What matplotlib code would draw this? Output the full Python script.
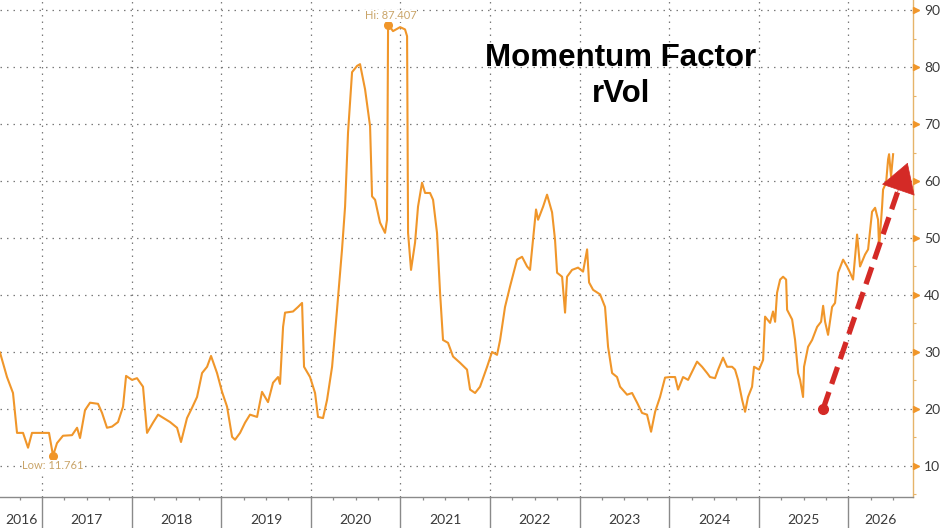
import numpy as np
import matplotlib
matplotlib.use("Agg")
import matplotlib.pyplot as plt
from matplotlib.ticker import FixedLocator, NullFormatter
import matplotlib.transforms as mtransforms

# ---------------- data (decimal years, rVol) ----------------
t = [2016.531, 2016.609, 2016.676, 2016.721, 2016.788, 2016.844, 2016.888, 2017.000,
     2017.078, 2017.123, 2017.167, 2017.234, 2017.335, 2017.391, 2017.424, 2017.480,
     2017.536, 2017.625, 2017.670, 2017.725, 2017.781, 2017.848, 2017.904, 2017.938,
     2018.004, 2018.060, 2018.127, 2018.172, 2018.239, 2018.295, 2018.429, 2018.507,
     2018.551, 2018.618, 2018.674, 2018.730, 2018.786, 2018.842, 2018.886, 2018.953,
     2019.009, 2019.065, 2019.121, 2019.154, 2019.210, 2019.266, 2019.321, 2019.400,
     2019.455, 2019.522, 2019.578, 2019.634, 2019.656, 2019.690, 2019.712, 2019.801,
     2019.857, 2019.902, 2019.924, 2019.991, 2020.047, 2020.080, 2020.136, 2020.181,
     2020.237, 2020.292, 2020.348, 2020.382, 2020.415, 2020.460, 2020.516, 2020.549,
     2020.605, 2020.661, 2020.683, 2020.717, 2020.772, 2020.828, 2020.850, 2020.862,
     2020.884, 2020.917, 2020.996, 2021.051, 2021.074, 2021.085, 2021.118, 2021.163,
     2021.196, 2021.241, 2021.275, 2021.330, 2021.364, 2021.408, 2021.442, 2021.475,
     2021.531, 2021.587, 2021.665, 2021.743, 2021.777, 2021.833, 2021.888, 2021.967,
     2022.022, 2022.078, 2022.112, 2022.167, 2022.223, 2022.301, 2022.357, 2022.413,
     2022.446, 2022.480, 2022.513, 2022.536, 2022.592, 2022.636, 2022.692, 2022.725,
     2022.748, 2022.804, 2022.837, 2022.859, 2022.915, 2022.982, 2023.038, 2023.083,
     2023.105, 2023.150, 2023.228, 2023.283, 2023.317, 2023.362, 2023.417, 2023.451,
     2023.529, 2023.585, 2023.641, 2023.696, 2023.752, 2023.797, 2023.842, 2023.897,
     2023.953, 2024.009, 2024.065, 2024.098, 2024.154, 2024.210, 2024.266, 2024.310,
     2024.366, 2024.422, 2024.455, 2024.511, 2024.545, 2024.600, 2024.645, 2024.701,
     2024.734, 2024.768, 2024.813, 2024.846, 2024.879, 2024.924, 2024.946, 2025.002,
     2025.047, 2025.069, 2025.125, 2025.158, 2025.181, 2025.203, 2025.237, 2025.270,
     2025.304, 2025.315, 2025.371, 2025.404, 2025.438, 2025.460, 2025.493, 2025.504,
     2025.549, 2025.594, 2025.650, 2025.694, 2025.717, 2025.739, 2025.772, 2025.817,
     2025.850, 2025.884, 2025.940, 2025.984, 2026.018, 2026.051, 2026.096, 2026.129,
     2026.185, 2026.219, 2026.263, 2026.297, 2026.330, 2026.342, 2026.375, 2026.386,
     2026.420, 2026.442, 2026.453, 2026.475, 2026.498]
rvol = [29.9, 25.6, 22.8, 15.8, 15.8, 13.2, 15.8, 15.8,
        15.8, 11.8, 14.0, 15.3, 15.4, 16.7, 14.9, 19.8,
        21.1, 20.9, 19.3, 16.7, 16.9, 17.7, 20.4, 25.8,
        25.1, 25.4, 23.9, 15.8, 17.6, 19.0, 17.7, 16.7,
        14.2, 18.4, 20.2, 22.1, 26.3, 27.4, 29.3, 26.3,
        23.0, 20.4, 15.1, 14.6, 15.8, 17.6, 19.0, 18.6,
        23.0, 21.2, 24.6, 25.6, 24.4, 34.4, 36.9, 37.1,
        37.9, 38.6, 27.4, 25.6, 22.8, 18.6, 18.4, 21.6,
        27.4, 37.4, 48.0, 55.5, 68.5, 79.1, 80.2, 80.5,
        76.1, 69.6, 57.3, 56.7, 52.7, 50.9, 53.2, 87.407,
        87.0, 86.3, 87.0, 86.6, 85.4, 50.9, 44.4, 49.2,
        55.5, 59.7, 57.9, 57.9, 56.7, 50.9, 40.4, 32.1,
        31.6, 29.2, 28.1, 26.9, 23.4, 22.8, 23.9, 27.4,
        30.0, 29.5, 32.1, 37.9, 41.5, 46.2, 46.7, 45.0,
        44.4, 49.7, 55.0, 53.2, 55.5, 57.6, 54.5, 49.7,
        43.9, 43.2, 36.9, 43.2, 44.4, 44.8, 44.1, 48.0,
        42.2, 40.9, 40.1, 37.9, 30.9, 26.3, 25.6, 23.9,
        22.5, 22.8, 21.1, 19.3, 19.0, 16.0, 19.5, 22.1,
        25.5, 25.6, 25.6, 23.4, 25.6, 25.1, 26.9, 28.3,
        27.4, 26.3, 25.6, 25.4, 26.9, 29.0, 27.4, 27.4,
        26.9, 25.1, 21.6, 19.5, 22.1, 23.9, 27.4, 26.9,
        28.6, 36.2, 35.1, 37.1, 35.3, 40.4, 42.7, 43.2,
        42.7, 37.4, 35.7, 32.1, 26.3, 25.1, 22.1, 27.4,
        30.9, 32.1, 34.4, 35.3, 38.1, 35.3, 33.0, 37.9,
        38.6, 43.9, 46.2, 45.0, 43.9, 42.7, 50.6, 45.0,
        47.1, 48.0, 54.6, 55.3, 53.2, 48.3, 55.5, 58.5,
        59.7, 63.8, 64.7, 60.8, 64.7]

hi_point = (2020.862, 87.407)
low_point = (2017.123, 11.761)
arrow_start = (2025.717, 20.0)
arrow_end = (2026.66, 63.2)

years = list(range(2017, 2027))
year_labels = ["2016", "2017", "2018", "2019", "2020", "2021", "2022", "2023",
               "2024", "2025", "2026"]
y_ticks = [10, 20, 30, 40, 50, 60, 70, 80, 90]
title_text = "Momentum Factor\nrVol"

# ---------------- style ----------------
ORANGE = "#f0962a"
TAN = "#c9a468"
RED = "#d42a26"
GRIDC = "#7a7a7a"
TXT = "#3a3a3a"

W, H = 948, 528
fig = plt.figure(figsize=(W / 100, H / 100), dpi=100)
fig.patch.set_facecolor("white")
ax = fig.add_axes([0, 1 - 497 / H, 913 / W, 497 / H])

xmin, xmax = 2016.531, 2026.72
ymin, ymax = 4.55, 91.76
ax.set_xlim(xmin, xmax)
ax.set_ylim(ymin, ymax)

# grid
for y in y_ticks:
    ax.axhline(y, color=GRIDC, lw=0.9, ls=(0, (1.2, 4)), zorder=0)
for yr in years:
    ax.axvline(yr, color=GRIDC, lw=0.9, ls=(0, (1.2, 4)), zorder=0)

# main line
ax.plot(t, rvol, color=ORANGE, lw=1.5, zorder=3, solid_joinstyle="round")

# hi / low
ax.plot(*hi_point, "o", color=ORANGE, ms=5.5, zorder=4)
ax.plot(*low_point, "o", color=ORANGE, ms=5.5, zorder=4)
ax.text(hi_point[0] + 0.03, 89.0, "Hi: 87.407", color=TAN, fontsize=8,
        family="Lato", ha="center", va="center", zorder=5,
        bbox=dict(facecolor="white", edgecolor="none", pad=0.5))
ax.text(low_point[0] + 0.0, 10.0, "Low: 11.761", color=TAN, fontsize=8,
        family="Lato", ha="center", va="center", zorder=5,
        bbox=dict(facecolor="white", edgecolor="none", pad=0.5))

# red dashed arrow
frac = 0.88
bx = arrow_start[0] + (arrow_end[0] - arrow_start[0]) * frac
by = arrow_start[1] + (arrow_end[1] - arrow_start[1]) * frac
ax.plot([arrow_start[0], bx], [arrow_start[1], by], color=RED, lw=3.8,
        ls=(0, (3.4, 1.6)), zorder=6, solid_capstyle="butt")
ax.annotate("", xy=arrow_end, xytext=(bx, by),
            arrowprops=dict(arrowstyle="-|>,head_length=1.0,head_width=0.6",
                            color=RED, lw=0.5, mutation_scale=20,
                            shrinkA=0, shrinkB=0), zorder=7)
ax.plot(*arrow_start, "o", color=RED, ms=7, zorder=7)

# spines
for s in ["top", "left"]:
    ax.spines[s].set_visible(False)
ax.spines["right"].set_color("#e6b46a")
ax.spines["right"].set_linewidth(1.0)
ax.spines["bottom"].set_color("#8a8a8a")
ax.spines["bottom"].set_linewidth(1.0)

# y axis on right
ax.yaxis.tick_right()
ax.yaxis.set_major_locator(FixedLocator(y_ticks))
ax.yaxis.set_minor_locator(FixedLocator([5, 15, 25, 35, 45, 55, 65, 75, 85]))
ax.tick_params(axis="y", which="major", direction="out", length=4, width=1,
               color="#e6b46a", labelcolor=TXT, labelsize=10, pad=4)
ax.tick_params(axis="y", which="minor", direction="out", length=2.5, width=0.8,
               color="#e6b46a")
for lab in ax.get_yticklabels():
    lab.set_family("Lato")
offset = mtransforms.ScaledTranslation(3 / 100, 0, fig.dpi_scale_trans)
ax.plot(np.ones(len(y_ticks)), y_ticks, ">", color=ORANGE, ms=4.5,
        transform=ax.get_yaxis_transform() + offset, clip_on=False, zorder=8)

# x axis
ax.xaxis.set_major_locator(FixedLocator(years))
ax.xaxis.set_major_formatter(NullFormatter())
quarters = [y + q for y in range(2016, 2027) for q in (0.25, 0.5, 0.75)
            if xmin < y + q < xmax]
ax.xaxis.set_minor_locator(FixedLocator(quarters))
ax.tick_params(axis="x", which="major", direction="out", length=31 * 0.72,
               width=1, color="#8a8a8a")
ax.tick_params(axis="x", which="minor", direction="out", length=2.5,
               width=0.9, color="#8a8a8a")

edges = [xmin] + years + [xmax]
for i, lab in enumerate(year_labels):
    cx = (edges[i] + edges[i + 1]) / 2
    ax.text(cx, -0.046, lab, transform=ax.get_xaxis_transform(), ha="center",
            va="center", fontsize=10, color=TXT, family="Lato")

# title
fig.text(621 / W, 1 - 76 / H, title_text, ha="center", va="center",
         fontsize=22.5, fontweight="bold", family="Liberation Sans",
         color="black", linespacing=1.25)

fig.savefig("out.png", dpi=100, facecolor="white")
